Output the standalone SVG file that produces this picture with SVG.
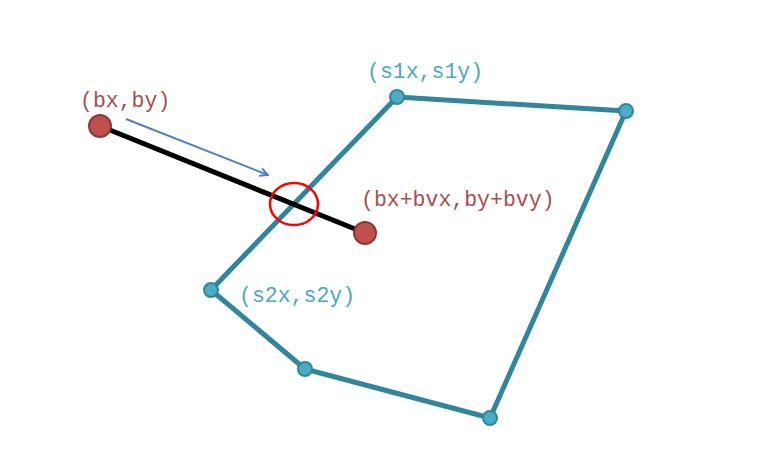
<svg xmlns="http://www.w3.org/2000/svg" width="768" height="450" viewBox="0 0 768 450">
<style>
.lbl{font-family:"Liberation Mono","Courier New",monospace;font-size:21.5px}
.blbl{fill:#4ba6c4}
.rlbl{fill:#a5504e}
.snode{fill:#4bacc6;stroke:#31859c;stroke-width:2}
.bnode{fill:#c0504d;stroke:#8c3836;stroke-width:2}
</style>
<defs>
<marker id="ah" markerWidth="10" markerHeight="10" refX="9" refY="5" orient="auto" markerUnits="userSpaceOnUse">
<path d="M1,1 L9,5 L1,9" fill="none" stroke="#4f81bd" stroke-width="2"/>
</marker>
</defs>
<rect width="768" height="450" fill="#ffffff"/>
<g id="connectors">
<polygon points="397,97 626,111 490,418 305,369 211,290" fill="none" stroke="#31859c" stroke-width="5" stroke-linejoin="round"/>
<line x1="100" y1="126" x2="365" y2="233" stroke="#000000" stroke-width="5"/>
<line x1="126" y1="119" x2="268" y2="175" stroke="#4f81bd" stroke-width="2" marker-end="url(#ah)"/>
<ellipse cx="294" cy="204" rx="24" ry="21" fill="none" stroke="#ff0000" stroke-width="2.5"/>
</g>
<g id="b"><circle class="bnode" cx="100" cy="126" r="11"/><text class="lbl rlbl" x="80" y="107">(bx,by)</text></g>
<g id="bend"><circle class="bnode" cx="365" cy="233" r="11"/><text class="lbl rlbl" x="361" y="206">(bx+bvx,by+bvy)</text></g>
<g id="s1"><circle class="snode" cx="397" cy="97" r="7"/><text class="lbl blbl" x="367" y="78">(s1x,s1y)</text></g>
<g id="s3"><circle class="snode" cx="626" cy="111" r="7"/></g>
<g id="s4"><circle class="snode" cx="490" cy="418" r="7"/></g>
<g id="s5"><circle class="snode" cx="305" cy="369" r="7"/></g>
<g id="s2"><circle class="snode" cx="211" cy="290" r="7"/><text class="lbl blbl" x="239" y="302">(s2x,s2y)</text></g>
</svg>
